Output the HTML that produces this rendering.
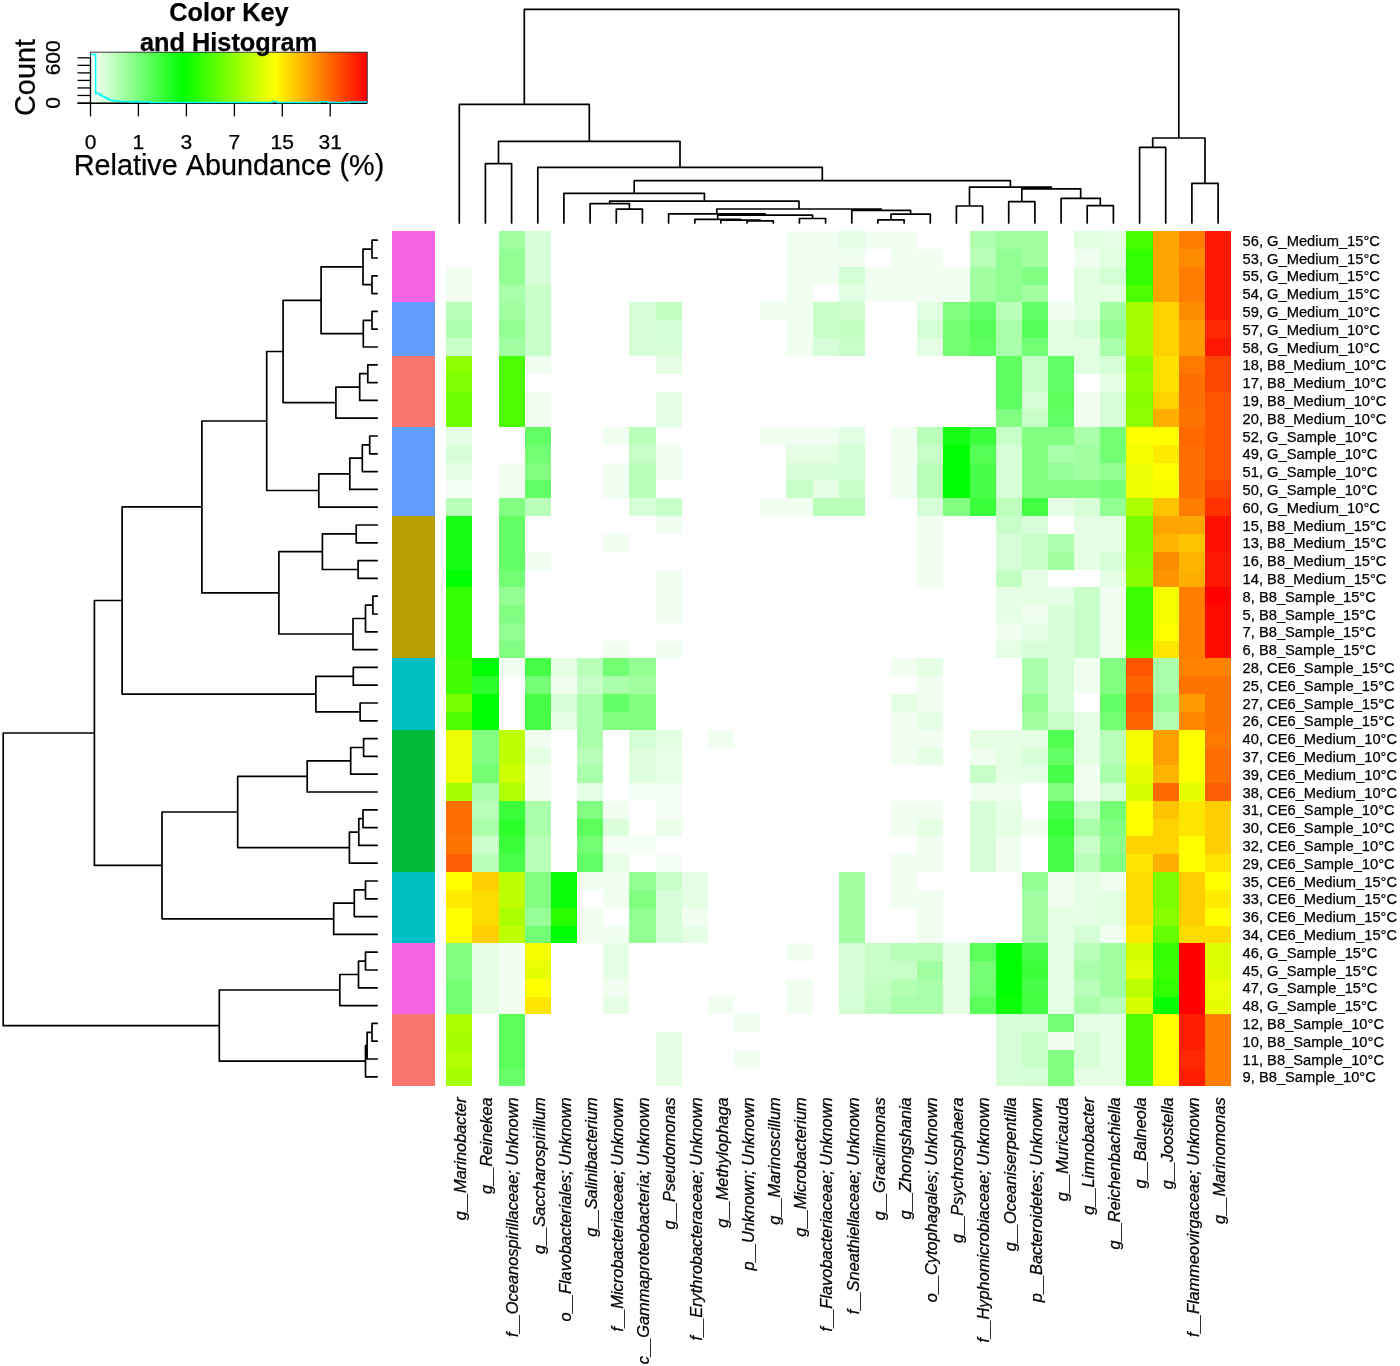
<!DOCTYPE html>
<html lang="en"><head><meta charset="utf-8"><title>Heatmap</title>
<style>html,body{margin:0;padding:0;background:#fff}body{width:1400px;height:1366px;overflow:hidden}svg{display:block}text{font-family:'Liberation Sans', Arial, Helvetica, sans-serif;fill:#000;stroke:#000;stroke-width:0.25px;font-kerning:none}</style>
</head><body>
<svg width="1400" height="1366" viewBox="0 0 1400 1366">
<rect width="1400" height="1366" fill="#fff"/>
<defs><linearGradient id="kg" x1="0" x2="1" y1="0" y2="0"><stop offset="0" stop-color="#fff"/><stop offset="0.333" stop-color="#00ff00"/><stop offset="0.667" stop-color="#ffff00"/><stop offset="1" stop-color="#ff0000"/></linearGradient></defs>
<rect x="90.5" y="52.2" width="276.7" height="50.8" fill="url(#kg)"/>
<rect x="90.5" y="52.2" width="276.7" height="50.8" fill="none" stroke="#222" stroke-width="0.9"/>
<g font-weight="bold" font-size="25.3" text-anchor="middle">
<text x="228.9" y="20.5">Color Key</text>
<text x="228.6" y="51.3">and Histogram</text></g>
<g stroke="#000" stroke-width="1.3" fill="none">
<path d="M77.5 103.3H367.2"/>
<path d="M90.5 103V116.4"/>
<path d="M138.4 103V116.4"/>
<path d="M186.4 103V116.4"/>
<path d="M234.4 103V116.4"/>
<path d="M282.3 103V116.4"/>
<path d="M330.2 103V116.4"/>
<path d="M90.5 57.8V103"/>
<path d="M77.5 103.00H90.5"/>
<path d="M77.5 95.47H90.5"/>
<path d="M77.5 87.94H90.5"/>
<path d="M77.5 80.41H90.5"/>
<path d="M77.5 72.88H90.5"/>
<path d="M77.5 65.35H90.5"/>
<path d="M77.5 57.82H90.5"/>
</g>
<polyline fill="none" stroke="#00ffff" stroke-width="1.5" points="91.0,54.5 95.6,54.5 95.6,93.5 99.5,93.5 99.5,95.0 102.0,95.0 102.0,96.6 105.0,96.6 105.0,97.8 107.5,97.8 107.5,99.2 110.0,99.2 110.0,100.3 114.0,100.3 114.0,101.0 120.0,101.0 120.0,101.6 130.0,101.6 130.0,102.0 134.0,102.0 134.0,101.5 139.0,101.5 139.0,102.1 150.0,102.1 150.0,102.4 272.0,102.4 272.0,101.6 277.0,101.6 277.0,102.4 320.0,102.4 320.0,101.7 328.0,101.7 328.0,102.4 350.0,102.4 350.0,102.0 367.0,102.0"/>
<g font-size="21" text-anchor="middle">
<text x="90.5" y="149.3">0</text>
<text x="138.4" y="149.3">1</text>
<text x="186.4" y="149.3">3</text>
<text x="234.4" y="149.3">7</text>
<text x="282.3" y="149.3">15</text>
<text x="330.2" y="149.3">31</text>
<text transform="translate(60.3,103) rotate(-90)">0</text>
<text transform="translate(60.3,57.8) rotate(-90)">600</text>
</g>
<text x="229" y="174.6" font-size="28.8" text-anchor="middle">Relative Abundance (%)</text>
<text transform="translate(34.6,77.5) rotate(-90)" font-size="28.8" text-anchor="middle">Count</text>
<path fill="none" stroke="#000" stroke-width="1.7" stroke-linecap="round" stroke-linejoin="round" d="M485.4 223.0L485.4 163.7M511.6 223.0L511.6 163.7M485.4 163.7L511.6 163.7M616.3 223.0L616.3 209.1M642.4 223.0L642.4 209.1M616.3 209.1L642.4 209.1M590.1 223.0L590.1 203.7M629.4 209.1L629.4 203.7M590.1 203.7L629.4 203.7M747.1 223.0L747.1 220.9M773.3 223.0L773.3 220.9M747.1 220.9L773.3 220.9M720.9 223.0L720.9 220.2M760.2 220.9L760.2 220.2M720.9 220.2L760.2 220.2M694.8 223.0L694.8 219.4M740.6 220.2L740.6 219.4M694.8 219.4L740.6 219.4M799.4 223.0L799.4 218.5M825.6 223.0L825.6 218.5M799.4 218.5L825.6 218.5M717.7 219.4L717.7 215.1M812.5 218.5L812.5 215.1M717.7 215.1L812.5 215.1M668.6 223.0L668.6 213.8M765.1 215.1L765.1 213.8M668.6 213.8L765.1 213.8M877.9 223.0L877.9 219.8M904.1 223.0L904.1 219.8M877.9 219.8L904.1 219.8M891.0 219.8L891.0 214.2M930.3 223.0L930.3 214.2M891.0 214.2L930.3 214.2M851.8 223.0L851.8 210.3M910.6 214.2L910.6 210.3M851.8 210.3L910.6 210.3M716.8 213.8L716.8 209.0M881.2 210.3L881.2 209.0M716.8 209.0L881.2 209.0M609.7 203.7L609.7 201.2M799.0 209.0L799.0 201.2M609.7 201.2L799.0 201.2M563.9 223.0L563.9 193.3M704.4 201.2L704.4 193.3M563.9 193.3L704.4 193.3M956.4 223.0L956.4 206.0M982.6 223.0L982.6 206.0M956.4 206.0L982.6 206.0M1008.7 223.0L1008.7 201.7M1034.9 223.0L1034.9 201.7M1008.7 201.7L1034.9 201.7M1087.2 223.0L1087.2 205.7M1113.4 223.0L1113.4 205.7M1087.2 205.7L1113.4 205.7M1061.1 223.0L1061.1 198.3M1100.3 205.7L1100.3 198.3M1061.1 198.3L1100.3 198.3M1021.8 201.7L1021.8 188.9M1080.7 198.3L1080.7 188.9M1021.8 188.9L1080.7 188.9M969.5 206.0L969.5 187.1M1051.3 188.9L1051.3 187.1M969.5 187.1L1051.3 187.1M634.2 193.3L634.2 180.6M1010.4 187.1L1010.4 180.6M634.2 180.6L1010.4 180.6M537.8 223.0L537.8 167.4M822.3 180.6L822.3 167.4M537.8 167.4L822.3 167.4M498.5 163.7L498.5 141.4M680.0 167.4L680.0 141.4M498.5 141.4L680.0 141.4M459.3 223.0L459.3 104.3M589.3 141.4L589.3 104.3M459.3 104.3L589.3 104.3M1139.6 223.0L1139.6 147.4M1165.7 223.0L1165.7 147.4M1139.6 147.4L1165.7 147.4M1191.9 223.0L1191.9 183.4M1218.1 223.0L1218.1 183.4M1191.9 183.4L1218.1 183.4M1152.7 147.4L1152.7 138.0M1205.0 183.4L1205.0 138.0M1152.7 138.0L1205.0 138.0M524.3 104.3L524.3 9.4M1178.8 138.0L1178.8 9.4M524.3 9.4L1178.8 9.4"/>
<path fill="none" stroke="#000" stroke-width="1.7" stroke-linecap="round" stroke-linejoin="round" d="M377.2 240.2L372.0 240.2M377.2 258.0L372.0 258.0M372.0 240.2L372.0 258.0M377.2 275.8L372.0 275.8M377.2 293.6L372.0 293.6M372.0 275.8L372.0 293.6M372.0 249.1L363.0 249.1M372.0 284.7L363.0 284.7M363.0 249.1L363.0 284.7M377.2 311.4L372.0 311.4M377.2 329.2L372.0 329.2M372.0 311.4L372.0 329.2M372.0 320.3L363.3 320.3M377.2 347.0L363.3 347.0M363.3 320.3L363.3 347.0M363.0 266.9L321.1 266.9M363.3 333.7L321.1 333.7M321.1 266.9L321.1 333.7M377.2 364.8L367.8 364.8M377.2 382.6L367.8 382.6M367.8 364.8L367.8 382.6M367.8 373.7L359.7 373.7M377.2 400.4L359.7 400.4M359.7 373.7L359.7 400.4M359.7 387.1L335.9 387.1M377.2 418.2L335.9 418.2M335.9 387.1L335.9 418.2M321.1 300.3L283.1 300.3M335.9 402.6L283.1 402.6M283.1 300.3L283.1 402.6M377.2 436.0L369.7 436.0M377.2 453.8L369.7 453.8M369.7 436.0L369.7 453.8M369.7 444.9L362.3 444.9M377.2 471.6L362.3 471.6M362.3 444.9L362.3 471.6M362.3 458.2L349.8 458.2M377.2 489.4L349.8 489.4M349.8 458.2L349.8 489.4M349.8 473.8L318.8 473.8M377.2 507.2L318.8 507.2M318.8 473.8L318.8 507.2M283.1 351.5L266.7 351.5M318.8 490.5L266.7 490.5M266.7 351.5L266.7 490.5M377.2 525.0L356.2 525.0M377.2 542.8L356.2 542.8M356.2 525.0L356.2 542.8M377.2 560.6L358.1 560.6M377.2 578.4L358.1 578.4M358.1 560.6L358.1 578.4M356.2 533.9L322.4 533.9M358.1 569.5L322.4 569.5M322.4 533.9L322.4 569.5M377.2 596.2L372.9 596.2M377.2 614.0L372.9 614.0M372.9 596.2L372.9 614.0M372.9 605.1L365.5 605.1M377.2 631.8L365.5 631.8M365.5 605.1L365.5 631.8M365.5 618.5L353.0 618.5M377.2 649.6L353.0 649.6M353.0 618.5L353.0 649.6M322.4 551.7L278.9 551.7M353.0 634.0L278.9 634.0M278.9 551.7L278.9 634.0M266.7 421.0L201.9 421.0M278.9 592.9L201.9 592.9M201.9 421.0L201.9 592.9M377.2 667.4L353.3 667.4M377.2 685.2L353.3 685.2M353.3 667.4L353.3 685.2M377.2 703.0L360.1 703.0M377.2 720.8L360.1 720.8M360.1 703.0L360.1 720.8M353.3 676.3L315.9 676.3M360.1 711.9L315.9 711.9M315.9 676.3L315.9 711.9M201.9 506.9L122.1 506.9M315.9 694.1L122.1 694.1M122.1 506.9L122.1 694.1M377.2 738.6L363.6 738.6M377.2 756.4L363.6 756.4M363.6 738.6L363.6 756.4M363.6 747.5L350.7 747.5M377.2 774.2L350.7 774.2M350.7 747.5L350.7 774.2M350.7 760.9L307.2 760.9M377.2 792.0L307.2 792.0M307.2 760.9L307.2 792.0M377.2 809.8L363.0 809.8M377.2 827.6L363.0 827.6M363.0 809.8L363.0 827.6M363.0 818.7L358.8 818.7M377.2 845.4L358.8 845.4M358.8 818.7L358.8 845.4M358.8 832.1L349.4 832.1M377.2 863.2L349.4 863.2M349.4 832.1L349.4 863.2M307.2 776.4L237.7 776.4M349.4 847.6L237.7 847.6M237.7 776.4L237.7 847.6M377.2 881.0L365.5 881.0M377.2 898.8L365.5 898.8M365.5 881.0L365.5 898.8M365.5 889.9L354.3 889.9M377.2 916.6L354.3 916.6M354.3 889.9L354.3 916.6M354.3 903.2L333.7 903.2M377.2 934.4L333.7 934.4M333.7 903.2L333.7 934.4M237.7 812.0L162.0 812.0M333.7 918.8L162.0 918.8M162.0 812.0L162.0 918.8M122.1 600.5L94.4 600.5M162.0 865.4L94.4 865.4M94.4 600.5L94.4 865.4M377.2 952.2L365.5 952.2M377.2 970.0L365.5 970.0M365.5 952.2L365.5 970.0M365.5 961.1L358.5 961.1M377.2 987.8L358.5 987.8M358.5 961.1L358.5 987.8M358.5 974.5L339.8 974.5M377.2 1005.6L339.8 1005.6M339.8 974.5L339.8 1005.6M377.2 1023.4L372.0 1023.4M377.2 1041.2L372.0 1041.2M372.0 1023.4L372.0 1041.2M372.0 1032.3L367.1 1032.3M377.2 1059.0L367.1 1059.0M367.1 1032.3L367.1 1059.0M367.1 1045.7L365.5 1045.7M377.2 1076.8L365.5 1076.8M365.5 1045.7L365.5 1076.8M339.8 990.0L219.3 990.0M365.5 1061.2L219.3 1061.2M219.3 990.0L219.3 1061.2M94.4 733.0L3.2 733.0M219.3 1025.6L3.2 1025.6M3.2 733.0L3.2 1025.6"/>
<g shape-rendering="crispEdges">
<rect x="392" y="231" width="43" height="71" fill="#f564e3"/>
<rect x="392" y="302" width="43" height="54" fill="#619cff"/>
<rect x="392" y="356" width="43" height="71" fill="#f8766d"/>
<rect x="392" y="427" width="43" height="89" fill="#619cff"/>
<rect x="392" y="516" width="43" height="142" fill="#b79f00"/>
<rect x="392" y="658" width="43" height="72" fill="#00bfc4"/>
<rect x="392" y="730" width="43" height="142" fill="#00ba38"/>
<rect x="392" y="872" width="43" height="71" fill="#00bfc4"/>
<rect x="392" y="943" width="43" height="71" fill="#f564e3"/>
<rect x="392" y="1014" width="43" height="72" fill="#f8766d"/>
</g>
<g shape-rendering="crispEdges">
<rect x="499" y="231" width="26" height="18" fill="#a0ffa0"/>
<rect x="525" y="231" width="26" height="18" fill="#d7ffd7"/>
<rect x="786" y="231" width="53" height="18" fill="#f0fff0"/>
<rect x="839" y="231" width="26" height="18" fill="#e4ffe4"/>
<rect x="865" y="231" width="52" height="18" fill="#f0fff0"/>
<rect x="970" y="231" width="26" height="18" fill="#afffaf"/>
<rect x="996" y="231" width="52" height="18" fill="#a0ffa0"/>
<rect x="1074" y="231" width="26" height="18" fill="#e1ffe1"/>
<rect x="1100" y="231" width="26" height="18" fill="#e4ffe4"/>
<rect x="1126" y="231" width="27" height="18" fill="#46ff00"/>
<rect x="1153" y="231" width="26" height="18" fill="#ffa500"/>
<rect x="1179" y="231" width="26" height="18" fill="#ff7d00"/>
<rect x="1205" y="231" width="26" height="18" fill="#ff1900"/>
<rect x="499" y="249" width="26" height="18" fill="#91ff91"/>
<rect x="525" y="249" width="26" height="18" fill="#d7ffd7"/>
<rect x="786" y="249" width="79" height="18" fill="#f0fff0"/>
<rect x="891" y="249" width="52" height="18" fill="#f0fff0"/>
<rect x="970" y="249" width="26" height="18" fill="#b9ffb9"/>
<rect x="996" y="249" width="26" height="18" fill="#91ff91"/>
<rect x="1022" y="249" width="26" height="18" fill="#a0ffa0"/>
<rect x="1074" y="249" width="26" height="18" fill="#f0fff0"/>
<rect x="1100" y="249" width="26" height="18" fill="#e1ffe1"/>
<rect x="1126" y="249" width="27" height="18" fill="#32ff00"/>
<rect x="1153" y="249" width="26" height="18" fill="#ffa500"/>
<rect x="1179" y="249" width="26" height="18" fill="#ff8c00"/>
<rect x="1205" y="249" width="26" height="18" fill="#ff1900"/>
<rect x="446" y="267" width="26" height="18" fill="#f0fff0"/>
<rect x="499" y="267" width="26" height="18" fill="#91ff91"/>
<rect x="525" y="267" width="26" height="18" fill="#d7ffd7"/>
<rect x="786" y="267" width="53" height="18" fill="#f0fff0"/>
<rect x="839" y="267" width="26" height="18" fill="#d4ffd4"/>
<rect x="865" y="267" width="105" height="18" fill="#f0fff0"/>
<rect x="970" y="267" width="26" height="18" fill="#a0ffa0"/>
<rect x="996" y="267" width="26" height="18" fill="#91ff91"/>
<rect x="1022" y="267" width="26" height="18" fill="#82ff82"/>
<rect x="1074" y="267" width="26" height="18" fill="#e1ffe1"/>
<rect x="1100" y="267" width="26" height="18" fill="#d4ffd4"/>
<rect x="1126" y="267" width="27" height="18" fill="#32ff00"/>
<rect x="1153" y="267" width="26" height="18" fill="#ffa500"/>
<rect x="1179" y="267" width="26" height="18" fill="#ff7d00"/>
<rect x="1205" y="267" width="26" height="18" fill="#ff1900"/>
<rect x="446" y="285" width="26" height="17" fill="#f0fff0"/>
<rect x="499" y="285" width="26" height="17" fill="#aaffaa"/>
<rect x="525" y="285" width="26" height="17" fill="#c8ffc8"/>
<rect x="786" y="285" width="27" height="17" fill="#f0fff0"/>
<rect x="839" y="285" width="26" height="17" fill="#e1ffe1"/>
<rect x="865" y="285" width="105" height="17" fill="#f0fff0"/>
<rect x="970" y="285" width="26" height="17" fill="#a0ffa0"/>
<rect x="996" y="285" width="26" height="17" fill="#91ff91"/>
<rect x="1022" y="285" width="26" height="17" fill="#a0ffa0"/>
<rect x="1074" y="285" width="26" height="17" fill="#e1ffe1"/>
<rect x="1100" y="285" width="26" height="17" fill="#e4ffe4"/>
<rect x="1126" y="285" width="27" height="17" fill="#4bff00"/>
<rect x="1153" y="285" width="26" height="17" fill="#ffa500"/>
<rect x="1179" y="285" width="26" height="17" fill="#ff7d00"/>
<rect x="1205" y="285" width="26" height="17" fill="#ff1900"/>
<rect x="446" y="302" width="26" height="18" fill="#b9ffb9"/>
<rect x="499" y="302" width="26" height="18" fill="#a0ffa0"/>
<rect x="525" y="302" width="26" height="18" fill="#c8ffc8"/>
<rect x="629" y="302" width="27" height="18" fill="#d7ffd7"/>
<rect x="656" y="302" width="26" height="18" fill="#c3ffc3"/>
<rect x="760" y="302" width="53" height="18" fill="#f0fff0"/>
<rect x="813" y="302" width="26" height="18" fill="#c8ffc8"/>
<rect x="839" y="302" width="26" height="18" fill="#d2ffd2"/>
<rect x="917" y="302" width="26" height="18" fill="#e1ffe1"/>
<rect x="943" y="302" width="27" height="18" fill="#82ff82"/>
<rect x="970" y="302" width="26" height="18" fill="#64ff64"/>
<rect x="996" y="302" width="26" height="18" fill="#b9ffb9"/>
<rect x="1022" y="302" width="26" height="18" fill="#64ff64"/>
<rect x="1048" y="302" width="26" height="18" fill="#f0fff0"/>
<rect x="1074" y="302" width="26" height="18" fill="#e1ffe1"/>
<rect x="1100" y="302" width="26" height="18" fill="#a0ffa0"/>
<rect x="1126" y="302" width="27" height="18" fill="#a5ff00"/>
<rect x="1153" y="302" width="26" height="18" fill="#ffd200"/>
<rect x="1179" y="302" width="26" height="18" fill="#ff8c00"/>
<rect x="1205" y="302" width="26" height="18" fill="#ff1900"/>
<rect x="446" y="320" width="26" height="18" fill="#afffaf"/>
<rect x="499" y="320" width="26" height="18" fill="#91ff91"/>
<rect x="525" y="320" width="26" height="18" fill="#c8ffc8"/>
<rect x="629" y="320" width="27" height="18" fill="#d7ffd7"/>
<rect x="656" y="320" width="26" height="18" fill="#d4ffd4"/>
<rect x="786" y="320" width="27" height="18" fill="#f0fff0"/>
<rect x="813" y="320" width="26" height="18" fill="#c8ffc8"/>
<rect x="839" y="320" width="26" height="18" fill="#c3ffc3"/>
<rect x="917" y="320" width="26" height="18" fill="#d4ffd4"/>
<rect x="943" y="320" width="27" height="18" fill="#73ff73"/>
<rect x="970" y="320" width="26" height="18" fill="#55ff55"/>
<rect x="996" y="320" width="26" height="18" fill="#aaffaa"/>
<rect x="1022" y="320" width="26" height="18" fill="#55ff55"/>
<rect x="1048" y="320" width="26" height="18" fill="#e1ffe1"/>
<rect x="1074" y="320" width="26" height="18" fill="#d4ffd4"/>
<rect x="1100" y="320" width="26" height="18" fill="#91ff91"/>
<rect x="1126" y="320" width="27" height="18" fill="#a5ff00"/>
<rect x="1153" y="320" width="26" height="18" fill="#ffd200"/>
<rect x="1179" y="320" width="26" height="18" fill="#ff9b00"/>
<rect x="1205" y="320" width="26" height="18" fill="#ff2800"/>
<rect x="446" y="338" width="26" height="18" fill="#c8ffc8"/>
<rect x="499" y="338" width="26" height="18" fill="#a0ffa0"/>
<rect x="525" y="338" width="26" height="18" fill="#c8ffc8"/>
<rect x="629" y="338" width="53" height="18" fill="#d7ffd7"/>
<rect x="786" y="338" width="27" height="18" fill="#f0fff0"/>
<rect x="813" y="338" width="26" height="18" fill="#d7ffd7"/>
<rect x="839" y="338" width="26" height="18" fill="#c8ffc8"/>
<rect x="917" y="338" width="26" height="18" fill="#e4ffe4"/>
<rect x="943" y="338" width="27" height="18" fill="#73ff73"/>
<rect x="970" y="338" width="26" height="18" fill="#5fff5f"/>
<rect x="996" y="338" width="26" height="18" fill="#aaffaa"/>
<rect x="1022" y="338" width="26" height="18" fill="#73ff73"/>
<rect x="1048" y="338" width="52" height="18" fill="#e1ffe1"/>
<rect x="1100" y="338" width="26" height="18" fill="#aaffaa"/>
<rect x="1126" y="338" width="27" height="18" fill="#a5ff00"/>
<rect x="1153" y="338" width="26" height="18" fill="#ffd200"/>
<rect x="1179" y="338" width="26" height="18" fill="#ff9b00"/>
<rect x="1205" y="338" width="26" height="18" fill="#ff1900"/>
<rect x="446" y="356" width="26" height="18" fill="#8cff00"/>
<rect x="499" y="356" width="26" height="18" fill="#4bff00"/>
<rect x="525" y="356" width="26" height="18" fill="#f0fff0"/>
<rect x="656" y="356" width="26" height="18" fill="#e4ffe4"/>
<rect x="996" y="356" width="26" height="18" fill="#5fff5f"/>
<rect x="1022" y="356" width="26" height="18" fill="#c8ffc8"/>
<rect x="1048" y="356" width="26" height="18" fill="#64ff64"/>
<rect x="1074" y="356" width="26" height="18" fill="#e1ffe1"/>
<rect x="1100" y="356" width="26" height="18" fill="#d7ffd7"/>
<rect x="1126" y="356" width="27" height="18" fill="#87ff00"/>
<rect x="1153" y="356" width="26" height="18" fill="#ffe100"/>
<rect x="1179" y="356" width="26" height="18" fill="#ff7800"/>
<rect x="1205" y="356" width="26" height="18" fill="#ff4600"/>
<rect x="446" y="374" width="26" height="18" fill="#82ff00"/>
<rect x="499" y="374" width="26" height="18" fill="#4bff00"/>
<rect x="996" y="374" width="26" height="18" fill="#5fff5f"/>
<rect x="1022" y="374" width="26" height="18" fill="#c8ffc8"/>
<rect x="1048" y="374" width="26" height="18" fill="#64ff64"/>
<rect x="1100" y="374" width="26" height="18" fill="#e4ffe4"/>
<rect x="1126" y="374" width="27" height="18" fill="#91ff00"/>
<rect x="1153" y="374" width="26" height="18" fill="#ffe100"/>
<rect x="1179" y="374" width="26" height="18" fill="#ff6e00"/>
<rect x="1205" y="374" width="26" height="18" fill="#ff4600"/>
<rect x="446" y="392" width="26" height="17" fill="#6eff00"/>
<rect x="499" y="392" width="26" height="17" fill="#4bff00"/>
<rect x="525" y="392" width="26" height="17" fill="#f0fff0"/>
<rect x="656" y="392" width="26" height="17" fill="#e4ffe4"/>
<rect x="996" y="392" width="26" height="17" fill="#5fff5f"/>
<rect x="1022" y="392" width="26" height="17" fill="#d7ffd7"/>
<rect x="1048" y="392" width="26" height="17" fill="#5aff5a"/>
<rect x="1074" y="392" width="26" height="17" fill="#f0fff0"/>
<rect x="1100" y="392" width="26" height="17" fill="#d7ffd7"/>
<rect x="1126" y="392" width="27" height="17" fill="#87ff00"/>
<rect x="1153" y="392" width="26" height="17" fill="#ffd200"/>
<rect x="1179" y="392" width="26" height="17" fill="#ff6e00"/>
<rect x="1205" y="392" width="26" height="17" fill="#ff5500"/>
<rect x="446" y="409" width="26" height="18" fill="#6eff00"/>
<rect x="499" y="409" width="26" height="18" fill="#4bff00"/>
<rect x="525" y="409" width="26" height="18" fill="#f0fff0"/>
<rect x="656" y="409" width="26" height="18" fill="#e4ffe4"/>
<rect x="996" y="409" width="26" height="18" fill="#82ff82"/>
<rect x="1022" y="409" width="26" height="18" fill="#c8ffc8"/>
<rect x="1048" y="409" width="26" height="18" fill="#64ff64"/>
<rect x="1074" y="409" width="26" height="18" fill="#f0fff0"/>
<rect x="1100" y="409" width="26" height="18" fill="#d7ffd7"/>
<rect x="1126" y="409" width="27" height="18" fill="#8cff00"/>
<rect x="1153" y="409" width="26" height="18" fill="#ffaf00"/>
<rect x="1179" y="409" width="26" height="18" fill="#ff7300"/>
<rect x="1205" y="409" width="26" height="18" fill="#ff5500"/>
<rect x="446" y="427" width="26" height="18" fill="#e4ffe4"/>
<rect x="525" y="427" width="26" height="18" fill="#64ff64"/>
<rect x="603" y="427" width="26" height="18" fill="#f0fff0"/>
<rect x="629" y="427" width="27" height="18" fill="#b9ffb9"/>
<rect x="760" y="427" width="79" height="18" fill="#f0fff0"/>
<rect x="839" y="427" width="26" height="18" fill="#e1ffe1"/>
<rect x="891" y="427" width="26" height="18" fill="#f0fff0"/>
<rect x="917" y="427" width="26" height="18" fill="#b9ffb9"/>
<rect x="943" y="427" width="27" height="18" fill="#14ff14"/>
<rect x="970" y="427" width="26" height="18" fill="#3cff3c"/>
<rect x="996" y="427" width="26" height="18" fill="#c8ffc8"/>
<rect x="1022" y="427" width="52" height="18" fill="#82ff82"/>
<rect x="1074" y="427" width="26" height="18" fill="#aaffaa"/>
<rect x="1100" y="427" width="26" height="18" fill="#73ff73"/>
<rect x="1126" y="427" width="53" height="18" fill="#ffff00"/>
<rect x="1179" y="427" width="26" height="18" fill="#ff6900"/>
<rect x="1205" y="427" width="26" height="18" fill="#ff5500"/>
<rect x="446" y="445" width="26" height="18" fill="#d7ffd7"/>
<rect x="525" y="445" width="26" height="18" fill="#73ff73"/>
<rect x="629" y="445" width="27" height="18" fill="#c8ffc8"/>
<rect x="656" y="445" width="26" height="18" fill="#f0fff0"/>
<rect x="786" y="445" width="53" height="18" fill="#e4ffe4"/>
<rect x="839" y="445" width="26" height="18" fill="#d4ffd4"/>
<rect x="891" y="445" width="26" height="18" fill="#f0fff0"/>
<rect x="917" y="445" width="26" height="18" fill="#c8ffc8"/>
<rect x="943" y="445" width="27" height="18" fill="#00ff00"/>
<rect x="970" y="445" width="26" height="18" fill="#55ff55"/>
<rect x="996" y="445" width="26" height="18" fill="#d7ffd7"/>
<rect x="1022" y="445" width="26" height="18" fill="#82ff82"/>
<rect x="1048" y="445" width="26" height="18" fill="#aaffaa"/>
<rect x="1074" y="445" width="26" height="18" fill="#a0ffa0"/>
<rect x="1100" y="445" width="26" height="18" fill="#73ff73"/>
<rect x="1126" y="445" width="27" height="18" fill="#f5ff00"/>
<rect x="1153" y="445" width="26" height="18" fill="#ffeb00"/>
<rect x="1179" y="445" width="26" height="18" fill="#ff6e00"/>
<rect x="1205" y="445" width="26" height="18" fill="#ff5500"/>
<rect x="446" y="463" width="26" height="17" fill="#e4ffe4"/>
<rect x="499" y="463" width="26" height="17" fill="#f0fff0"/>
<rect x="525" y="463" width="26" height="17" fill="#82ff82"/>
<rect x="603" y="463" width="26" height="17" fill="#f0fff0"/>
<rect x="629" y="463" width="27" height="17" fill="#b9ffb9"/>
<rect x="656" y="463" width="26" height="17" fill="#f0fff0"/>
<rect x="786" y="463" width="53" height="17" fill="#d7ffd7"/>
<rect x="839" y="463" width="26" height="17" fill="#d4ffd4"/>
<rect x="891" y="463" width="26" height="17" fill="#f0fff0"/>
<rect x="917" y="463" width="26" height="17" fill="#b9ffb9"/>
<rect x="943" y="463" width="27" height="17" fill="#00ff00"/>
<rect x="970" y="463" width="26" height="17" fill="#46ff46"/>
<rect x="996" y="463" width="26" height="17" fill="#d7ffd7"/>
<rect x="1022" y="463" width="26" height="17" fill="#82ff82"/>
<rect x="1048" y="463" width="26" height="17" fill="#96ff96"/>
<rect x="1074" y="463" width="26" height="17" fill="#a0ffa0"/>
<rect x="1100" y="463" width="26" height="17" fill="#91ff91"/>
<rect x="1126" y="463" width="27" height="17" fill="#ebff00"/>
<rect x="1153" y="463" width="26" height="17" fill="#ffff00"/>
<rect x="1179" y="463" width="26" height="17" fill="#ff6e00"/>
<rect x="1205" y="463" width="26" height="17" fill="#ff5500"/>
<rect x="446" y="480" width="26" height="18" fill="#f5fff5"/>
<rect x="499" y="480" width="26" height="18" fill="#f0fff0"/>
<rect x="525" y="480" width="26" height="18" fill="#64ff64"/>
<rect x="603" y="480" width="26" height="18" fill="#f0fff0"/>
<rect x="629" y="480" width="27" height="18" fill="#b9ffb9"/>
<rect x="786" y="480" width="27" height="18" fill="#c8ffc8"/>
<rect x="813" y="480" width="26" height="18" fill="#e4ffe4"/>
<rect x="839" y="480" width="26" height="18" fill="#c8ffc8"/>
<rect x="891" y="480" width="26" height="18" fill="#f0fff0"/>
<rect x="917" y="480" width="26" height="18" fill="#b9ffb9"/>
<rect x="943" y="480" width="27" height="18" fill="#00ff00"/>
<rect x="970" y="480" width="26" height="18" fill="#46ff46"/>
<rect x="996" y="480" width="26" height="18" fill="#d7ffd7"/>
<rect x="1022" y="480" width="78" height="18" fill="#82ff82"/>
<rect x="1100" y="480" width="26" height="18" fill="#78ff78"/>
<rect x="1126" y="480" width="27" height="18" fill="#f0ff00"/>
<rect x="1153" y="480" width="26" height="18" fill="#f5ff00"/>
<rect x="1179" y="480" width="26" height="18" fill="#ff6e00"/>
<rect x="1205" y="480" width="26" height="18" fill="#ff4600"/>
<rect x="446" y="498" width="26" height="18" fill="#b9ffb9"/>
<rect x="499" y="498" width="26" height="18" fill="#82ff82"/>
<rect x="525" y="498" width="26" height="18" fill="#b9ffb9"/>
<rect x="629" y="498" width="27" height="18" fill="#d7ffd7"/>
<rect x="656" y="498" width="26" height="18" fill="#c8ffc8"/>
<rect x="760" y="498" width="53" height="18" fill="#f0fff0"/>
<rect x="813" y="498" width="52" height="18" fill="#b9ffb9"/>
<rect x="917" y="498" width="26" height="18" fill="#d7ffd7"/>
<rect x="943" y="498" width="27" height="18" fill="#82ff82"/>
<rect x="970" y="498" width="26" height="18" fill="#3cff3c"/>
<rect x="996" y="498" width="26" height="18" fill="#beffbe"/>
<rect x="1022" y="498" width="26" height="18" fill="#41ff41"/>
<rect x="1048" y="498" width="26" height="18" fill="#e4ffe4"/>
<rect x="1074" y="498" width="26" height="18" fill="#d7ffd7"/>
<rect x="1100" y="498" width="26" height="18" fill="#91ff91"/>
<rect x="1126" y="498" width="27" height="18" fill="#aaff00"/>
<rect x="1153" y="498" width="26" height="18" fill="#ffc300"/>
<rect x="1179" y="498" width="26" height="18" fill="#ff7d00"/>
<rect x="1205" y="498" width="26" height="18" fill="#ff3200"/>
<rect x="446" y="516" width="26" height="18" fill="#14ff14"/>
<rect x="499" y="516" width="26" height="18" fill="#64ff64"/>
<rect x="656" y="516" width="26" height="18" fill="#f0fff0"/>
<rect x="917" y="516" width="26" height="18" fill="#f0fff0"/>
<rect x="996" y="516" width="26" height="18" fill="#c8ffc8"/>
<rect x="1022" y="516" width="26" height="18" fill="#d7ffd7"/>
<rect x="1074" y="516" width="52" height="18" fill="#e4ffe4"/>
<rect x="1126" y="516" width="27" height="18" fill="#78ff00"/>
<rect x="1153" y="516" width="52" height="18" fill="#ffa500"/>
<rect x="1205" y="516" width="26" height="18" fill="#ff0f00"/>
<rect x="446" y="534" width="26" height="18" fill="#14ff14"/>
<rect x="499" y="534" width="26" height="18" fill="#64ff64"/>
<rect x="603" y="534" width="26" height="18" fill="#f0fff0"/>
<rect x="917" y="534" width="26" height="18" fill="#f0fff0"/>
<rect x="996" y="534" width="26" height="18" fill="#d7ffd7"/>
<rect x="1022" y="534" width="26" height="18" fill="#c8ffc8"/>
<rect x="1048" y="534" width="26" height="18" fill="#afffaf"/>
<rect x="1074" y="534" width="52" height="18" fill="#e4ffe4"/>
<rect x="1126" y="534" width="27" height="18" fill="#78ff00"/>
<rect x="1153" y="534" width="26" height="18" fill="#ffb400"/>
<rect x="1179" y="534" width="26" height="18" fill="#ffc300"/>
<rect x="1205" y="534" width="26" height="18" fill="#ff0f00"/>
<rect x="446" y="552" width="26" height="18" fill="#14ff14"/>
<rect x="499" y="552" width="26" height="18" fill="#64ff64"/>
<rect x="525" y="552" width="26" height="18" fill="#f0fff0"/>
<rect x="917" y="552" width="26" height="18" fill="#f0fff0"/>
<rect x="996" y="552" width="26" height="18" fill="#d7ffd7"/>
<rect x="1022" y="552" width="26" height="18" fill="#c8ffc8"/>
<rect x="1048" y="552" width="26" height="18" fill="#a0ffa0"/>
<rect x="1074" y="552" width="26" height="18" fill="#e4ffe4"/>
<rect x="1100" y="552" width="26" height="18" fill="#d7ffd7"/>
<rect x="1126" y="552" width="27" height="18" fill="#82ff00"/>
<rect x="1153" y="552" width="26" height="18" fill="#ff8c00"/>
<rect x="1179" y="552" width="26" height="18" fill="#ffb400"/>
<rect x="1205" y="552" width="26" height="18" fill="#ff1900"/>
<rect x="446" y="570" width="26" height="17" fill="#00ff00"/>
<rect x="499" y="570" width="26" height="17" fill="#73ff73"/>
<rect x="656" y="570" width="26" height="17" fill="#f0fff0"/>
<rect x="917" y="570" width="26" height="17" fill="#f0fff0"/>
<rect x="996" y="570" width="26" height="17" fill="#c3ffc3"/>
<rect x="1022" y="570" width="26" height="17" fill="#e4ffe4"/>
<rect x="1100" y="570" width="26" height="17" fill="#e4ffe4"/>
<rect x="1126" y="570" width="27" height="17" fill="#87ff00"/>
<rect x="1153" y="570" width="26" height="17" fill="#ff9600"/>
<rect x="1179" y="570" width="26" height="17" fill="#ffaf00"/>
<rect x="1205" y="570" width="26" height="17" fill="#ff1900"/>
<rect x="446" y="587" width="26" height="18" fill="#32ff00"/>
<rect x="499" y="587" width="26" height="18" fill="#91ff91"/>
<rect x="656" y="587" width="26" height="18" fill="#f0fff0"/>
<rect x="996" y="587" width="78" height="18" fill="#e4ffe4"/>
<rect x="1074" y="587" width="26" height="18" fill="#c8ffc8"/>
<rect x="1100" y="587" width="26" height="18" fill="#f0fff0"/>
<rect x="1126" y="587" width="27" height="18" fill="#3cff00"/>
<rect x="1153" y="587" width="26" height="18" fill="#f5ff00"/>
<rect x="1179" y="587" width="26" height="18" fill="#ff7d00"/>
<rect x="1205" y="587" width="26" height="18" fill="#ff0000"/>
<rect x="446" y="605" width="26" height="18" fill="#32ff00"/>
<rect x="499" y="605" width="26" height="18" fill="#82ff82"/>
<rect x="656" y="605" width="26" height="18" fill="#f0fff0"/>
<rect x="996" y="605" width="26" height="18" fill="#e4ffe4"/>
<rect x="1022" y="605" width="26" height="18" fill="#f0fff0"/>
<rect x="1048" y="605" width="26" height="18" fill="#d7ffd7"/>
<rect x="1074" y="605" width="26" height="18" fill="#c8ffc8"/>
<rect x="1100" y="605" width="26" height="18" fill="#f0fff0"/>
<rect x="1126" y="605" width="27" height="18" fill="#3cff00"/>
<rect x="1153" y="605" width="26" height="18" fill="#f5ff00"/>
<rect x="1179" y="605" width="26" height="18" fill="#ff7d00"/>
<rect x="1205" y="605" width="26" height="18" fill="#ff0a00"/>
<rect x="446" y="623" width="26" height="18" fill="#32ff00"/>
<rect x="499" y="623" width="26" height="18" fill="#91ff91"/>
<rect x="996" y="623" width="26" height="18" fill="#f0fff0"/>
<rect x="1022" y="623" width="26" height="18" fill="#e4ffe4"/>
<rect x="1048" y="623" width="26" height="18" fill="#d7ffd7"/>
<rect x="1074" y="623" width="26" height="18" fill="#c8ffc8"/>
<rect x="1100" y="623" width="26" height="18" fill="#f0fff0"/>
<rect x="1126" y="623" width="27" height="18" fill="#3cff00"/>
<rect x="1153" y="623" width="26" height="18" fill="#ffff00"/>
<rect x="1179" y="623" width="26" height="18" fill="#ff7d00"/>
<rect x="1205" y="623" width="26" height="18" fill="#ff0a00"/>
<rect x="446" y="641" width="26" height="17" fill="#32ff00"/>
<rect x="499" y="641" width="26" height="17" fill="#82ff82"/>
<rect x="603" y="641" width="26" height="17" fill="#f0fff0"/>
<rect x="656" y="641" width="26" height="17" fill="#f0fff0"/>
<rect x="996" y="641" width="26" height="17" fill="#e4ffe4"/>
<rect x="1022" y="641" width="52" height="17" fill="#d7ffd7"/>
<rect x="1074" y="641" width="26" height="17" fill="#c8ffc8"/>
<rect x="1100" y="641" width="26" height="17" fill="#f0fff0"/>
<rect x="1126" y="641" width="27" height="17" fill="#4bff00"/>
<rect x="1153" y="641" width="26" height="17" fill="#ffe600"/>
<rect x="1179" y="641" width="26" height="17" fill="#ff7d00"/>
<rect x="1205" y="641" width="26" height="17" fill="#ff0a00"/>
<rect x="446" y="658" width="26" height="18" fill="#41ff00"/>
<rect x="472" y="658" width="27" height="18" fill="#00ff00"/>
<rect x="499" y="658" width="26" height="18" fill="#f0fff0"/>
<rect x="525" y="658" width="26" height="18" fill="#46ff46"/>
<rect x="551" y="658" width="26" height="18" fill="#e4ffe4"/>
<rect x="577" y="658" width="26" height="18" fill="#b9ffb9"/>
<rect x="603" y="658" width="26" height="18" fill="#73ff73"/>
<rect x="629" y="658" width="27" height="18" fill="#91ff91"/>
<rect x="891" y="658" width="26" height="18" fill="#f0fff0"/>
<rect x="917" y="658" width="26" height="18" fill="#e4ffe4"/>
<rect x="1022" y="658" width="26" height="18" fill="#aaffaa"/>
<rect x="1048" y="658" width="26" height="18" fill="#d7ffd7"/>
<rect x="1074" y="658" width="26" height="18" fill="#f0fff0"/>
<rect x="1100" y="658" width="26" height="18" fill="#82ff82"/>
<rect x="1126" y="658" width="27" height="18" fill="#ff5500"/>
<rect x="1153" y="658" width="26" height="18" fill="#aaffaa"/>
<rect x="1179" y="658" width="52" height="18" fill="#ff8200"/>
<rect x="446" y="676" width="26" height="18" fill="#41ff00"/>
<rect x="472" y="676" width="27" height="18" fill="#2dff2d"/>
<rect x="525" y="676" width="26" height="18" fill="#78ff78"/>
<rect x="551" y="676" width="26" height="18" fill="#f0fff0"/>
<rect x="577" y="676" width="26" height="18" fill="#c8ffc8"/>
<rect x="603" y="676" width="26" height="18" fill="#aaffaa"/>
<rect x="629" y="676" width="27" height="18" fill="#a0ffa0"/>
<rect x="917" y="676" width="26" height="18" fill="#f0fff0"/>
<rect x="1022" y="676" width="26" height="18" fill="#aaffaa"/>
<rect x="1048" y="676" width="26" height="18" fill="#d7ffd7"/>
<rect x="1074" y="676" width="26" height="18" fill="#f0fff0"/>
<rect x="1100" y="676" width="26" height="18" fill="#82ff82"/>
<rect x="1126" y="676" width="27" height="18" fill="#ff6400"/>
<rect x="1153" y="676" width="26" height="18" fill="#aaffaa"/>
<rect x="1179" y="676" width="52" height="18" fill="#ff7300"/>
<rect x="446" y="694" width="26" height="18" fill="#78ff00"/>
<rect x="472" y="694" width="27" height="18" fill="#00ff00"/>
<rect x="525" y="694" width="26" height="18" fill="#46ff46"/>
<rect x="551" y="694" width="26" height="18" fill="#d7ffd7"/>
<rect x="577" y="694" width="26" height="18" fill="#aaffaa"/>
<rect x="603" y="694" width="26" height="18" fill="#64ff64"/>
<rect x="629" y="694" width="27" height="18" fill="#82ff82"/>
<rect x="891" y="694" width="26" height="18" fill="#e4ffe4"/>
<rect x="917" y="694" width="26" height="18" fill="#f0fff0"/>
<rect x="1022" y="694" width="26" height="18" fill="#91ff91"/>
<rect x="1048" y="694" width="26" height="18" fill="#d7ffd7"/>
<rect x="1100" y="694" width="26" height="18" fill="#64ff64"/>
<rect x="1126" y="694" width="27" height="18" fill="#ff5500"/>
<rect x="1153" y="694" width="26" height="18" fill="#9bff9b"/>
<rect x="1179" y="694" width="26" height="18" fill="#ff9b00"/>
<rect x="1205" y="694" width="26" height="18" fill="#ff7300"/>
<rect x="446" y="712" width="26" height="18" fill="#50ff00"/>
<rect x="472" y="712" width="27" height="18" fill="#00ff00"/>
<rect x="525" y="712" width="26" height="18" fill="#46ff46"/>
<rect x="551" y="712" width="26" height="18" fill="#e4ffe4"/>
<rect x="577" y="712" width="26" height="18" fill="#aaffaa"/>
<rect x="603" y="712" width="53" height="18" fill="#82ff82"/>
<rect x="891" y="712" width="26" height="18" fill="#f0fff0"/>
<rect x="917" y="712" width="26" height="18" fill="#e4ffe4"/>
<rect x="1022" y="712" width="26" height="18" fill="#a0ffa0"/>
<rect x="1048" y="712" width="26" height="18" fill="#c8ffc8"/>
<rect x="1074" y="712" width="26" height="18" fill="#e4ffe4"/>
<rect x="1100" y="712" width="26" height="18" fill="#73ff73"/>
<rect x="1126" y="712" width="27" height="18" fill="#ff6400"/>
<rect x="1153" y="712" width="26" height="18" fill="#b4ffb4"/>
<rect x="1179" y="712" width="26" height="18" fill="#ff8700"/>
<rect x="1205" y="712" width="26" height="18" fill="#ff7300"/>
<rect x="446" y="730" width="26" height="18" fill="#ebff00"/>
<rect x="472" y="730" width="27" height="18" fill="#82ff82"/>
<rect x="499" y="730" width="26" height="18" fill="#beff00"/>
<rect x="525" y="730" width="26" height="18" fill="#f0fff0"/>
<rect x="577" y="730" width="26" height="18" fill="#aaffaa"/>
<rect x="629" y="730" width="27" height="18" fill="#d4ffd4"/>
<rect x="656" y="730" width="26" height="18" fill="#e1ffe1"/>
<rect x="708" y="730" width="26" height="18" fill="#f0fff0"/>
<rect x="891" y="730" width="52" height="18" fill="#f0fff0"/>
<rect x="970" y="730" width="78" height="18" fill="#e4ffe4"/>
<rect x="1048" y="730" width="26" height="18" fill="#50ff50"/>
<rect x="1074" y="730" width="26" height="18" fill="#e4ffe4"/>
<rect x="1100" y="730" width="26" height="18" fill="#b9ffb9"/>
<rect x="1126" y="730" width="27" height="18" fill="#f5ff00"/>
<rect x="1153" y="730" width="26" height="18" fill="#ffa000"/>
<rect x="1179" y="730" width="26" height="18" fill="#ffff00"/>
<rect x="1205" y="730" width="26" height="18" fill="#ff7800"/>
<rect x="446" y="748" width="26" height="17" fill="#ebff00"/>
<rect x="472" y="748" width="27" height="17" fill="#82ff82"/>
<rect x="499" y="748" width="26" height="17" fill="#beff00"/>
<rect x="525" y="748" width="26" height="17" fill="#e4ffe4"/>
<rect x="577" y="748" width="26" height="17" fill="#b9ffb9"/>
<rect x="629" y="748" width="27" height="17" fill="#deffde"/>
<rect x="656" y="748" width="26" height="17" fill="#e6ffe6"/>
<rect x="891" y="748" width="26" height="17" fill="#f0fff0"/>
<rect x="917" y="748" width="26" height="17" fill="#e4ffe4"/>
<rect x="970" y="748" width="26" height="17" fill="#f0fff0"/>
<rect x="996" y="748" width="26" height="17" fill="#e4ffe4"/>
<rect x="1022" y="748" width="26" height="17" fill="#d7ffd7"/>
<rect x="1048" y="748" width="26" height="17" fill="#64ff64"/>
<rect x="1074" y="748" width="26" height="17" fill="#e4ffe4"/>
<rect x="1100" y="748" width="26" height="17" fill="#b9ffb9"/>
<rect x="1126" y="748" width="27" height="17" fill="#f5ff00"/>
<rect x="1153" y="748" width="26" height="17" fill="#ffa000"/>
<rect x="1179" y="748" width="26" height="17" fill="#ffff00"/>
<rect x="1205" y="748" width="26" height="17" fill="#ff6e00"/>
<rect x="446" y="765" width="26" height="18" fill="#ebff00"/>
<rect x="472" y="765" width="27" height="18" fill="#73ff73"/>
<rect x="499" y="765" width="26" height="18" fill="#cdff00"/>
<rect x="525" y="765" width="26" height="18" fill="#f0fff0"/>
<rect x="577" y="765" width="26" height="18" fill="#aaffaa"/>
<rect x="629" y="765" width="27" height="18" fill="#deffde"/>
<rect x="656" y="765" width="26" height="18" fill="#e6ffe6"/>
<rect x="970" y="765" width="26" height="18" fill="#c8ffc8"/>
<rect x="996" y="765" width="52" height="18" fill="#e4ffe4"/>
<rect x="1048" y="765" width="26" height="18" fill="#46ff46"/>
<rect x="1074" y="765" width="26" height="18" fill="#f0fff0"/>
<rect x="1100" y="765" width="26" height="18" fill="#aaffaa"/>
<rect x="1126" y="765" width="27" height="18" fill="#e8ff00"/>
<rect x="1153" y="765" width="26" height="18" fill="#ffb400"/>
<rect x="1179" y="765" width="26" height="18" fill="#ffff00"/>
<rect x="1205" y="765" width="26" height="18" fill="#ff6e00"/>
<rect x="446" y="783" width="26" height="18" fill="#a5ff00"/>
<rect x="472" y="783" width="27" height="18" fill="#aaffaa"/>
<rect x="499" y="783" width="26" height="18" fill="#afff00"/>
<rect x="525" y="783" width="26" height="18" fill="#f0fff0"/>
<rect x="577" y="783" width="26" height="18" fill="#e4ffe4"/>
<rect x="629" y="783" width="53" height="18" fill="#f5fff5"/>
<rect x="970" y="783" width="52" height="18" fill="#f0fff0"/>
<rect x="1048" y="783" width="26" height="18" fill="#82ff82"/>
<rect x="1074" y="783" width="26" height="18" fill="#f0fff0"/>
<rect x="1100" y="783" width="26" height="18" fill="#d7ffd7"/>
<rect x="1126" y="783" width="27" height="18" fill="#d7ff00"/>
<rect x="1153" y="783" width="26" height="18" fill="#ff6900"/>
<rect x="1179" y="783" width="26" height="18" fill="#e8ff00"/>
<rect x="1205" y="783" width="26" height="18" fill="#ff5f00"/>
<rect x="446" y="801" width="26" height="18" fill="#ff6e00"/>
<rect x="472" y="801" width="27" height="18" fill="#b9ffb9"/>
<rect x="499" y="801" width="26" height="18" fill="#3cff3c"/>
<rect x="525" y="801" width="26" height="18" fill="#aaffaa"/>
<rect x="577" y="801" width="26" height="18" fill="#82ff82"/>
<rect x="603" y="801" width="26" height="18" fill="#f0fff0"/>
<rect x="656" y="801" width="26" height="18" fill="#f5fff5"/>
<rect x="891" y="801" width="52" height="18" fill="#f0fff0"/>
<rect x="970" y="801" width="26" height="18" fill="#d7ffd7"/>
<rect x="996" y="801" width="26" height="18" fill="#e4ffe4"/>
<rect x="1048" y="801" width="26" height="18" fill="#46ff46"/>
<rect x="1074" y="801" width="26" height="18" fill="#c8ffc8"/>
<rect x="1100" y="801" width="26" height="18" fill="#73ff73"/>
<rect x="1126" y="801" width="27" height="18" fill="#ffff00"/>
<rect x="1153" y="801" width="26" height="18" fill="#ffc300"/>
<rect x="1179" y="801" width="26" height="18" fill="#ffe600"/>
<rect x="1205" y="801" width="26" height="18" fill="#ffcd00"/>
<rect x="446" y="819" width="26" height="17" fill="#ff6e00"/>
<rect x="472" y="819" width="27" height="17" fill="#aaffaa"/>
<rect x="499" y="819" width="26" height="17" fill="#2dff2d"/>
<rect x="525" y="819" width="26" height="17" fill="#aaffaa"/>
<rect x="577" y="819" width="26" height="17" fill="#5aff5a"/>
<rect x="603" y="819" width="26" height="17" fill="#dcffdc"/>
<rect x="656" y="819" width="26" height="17" fill="#ebffeb"/>
<rect x="891" y="819" width="26" height="17" fill="#f0fff0"/>
<rect x="917" y="819" width="26" height="17" fill="#e4ffe4"/>
<rect x="970" y="819" width="26" height="17" fill="#d7ffd7"/>
<rect x="996" y="819" width="26" height="17" fill="#e4ffe4"/>
<rect x="1022" y="819" width="26" height="17" fill="#f0fff0"/>
<rect x="1048" y="819" width="26" height="17" fill="#37ff37"/>
<rect x="1074" y="819" width="26" height="17" fill="#aaffaa"/>
<rect x="1100" y="819" width="26" height="17" fill="#82ff82"/>
<rect x="1126" y="819" width="27" height="17" fill="#ffff00"/>
<rect x="1153" y="819" width="26" height="17" fill="#ffd200"/>
<rect x="1179" y="819" width="26" height="17" fill="#ffe600"/>
<rect x="1205" y="819" width="26" height="17" fill="#ffcd00"/>
<rect x="446" y="836" width="26" height="18" fill="#ff7300"/>
<rect x="472" y="836" width="27" height="18" fill="#cdffcd"/>
<rect x="499" y="836" width="26" height="18" fill="#3cff3c"/>
<rect x="525" y="836" width="26" height="18" fill="#b9ffb9"/>
<rect x="577" y="836" width="26" height="18" fill="#73ff73"/>
<rect x="603" y="836" width="53" height="18" fill="#f5fff5"/>
<rect x="917" y="836" width="26" height="18" fill="#f0fff0"/>
<rect x="970" y="836" width="26" height="18" fill="#d7ffd7"/>
<rect x="996" y="836" width="26" height="18" fill="#f0fff0"/>
<rect x="1048" y="836" width="26" height="18" fill="#46ff46"/>
<rect x="1074" y="836" width="26" height="18" fill="#c8ffc8"/>
<rect x="1100" y="836" width="26" height="18" fill="#8cff8c"/>
<rect x="1126" y="836" width="53" height="18" fill="#ffd200"/>
<rect x="1179" y="836" width="26" height="18" fill="#ffff00"/>
<rect x="1205" y="836" width="26" height="18" fill="#ffcd00"/>
<rect x="446" y="854" width="26" height="18" fill="#ff5f00"/>
<rect x="472" y="854" width="27" height="18" fill="#b9ffb9"/>
<rect x="499" y="854" width="26" height="18" fill="#4bff4b"/>
<rect x="525" y="854" width="26" height="18" fill="#b9ffb9"/>
<rect x="577" y="854" width="26" height="18" fill="#64ff64"/>
<rect x="603" y="854" width="26" height="18" fill="#e6ffe6"/>
<rect x="656" y="854" width="26" height="18" fill="#f5fff5"/>
<rect x="891" y="854" width="52" height="18" fill="#f0fff0"/>
<rect x="970" y="854" width="26" height="18" fill="#d7ffd7"/>
<rect x="996" y="854" width="26" height="18" fill="#f0fff0"/>
<rect x="1048" y="854" width="26" height="18" fill="#46ff46"/>
<rect x="1074" y="854" width="26" height="18" fill="#b9ffb9"/>
<rect x="1100" y="854" width="26" height="18" fill="#82ff82"/>
<rect x="1126" y="854" width="27" height="18" fill="#ffe600"/>
<rect x="1153" y="854" width="26" height="18" fill="#ffaf00"/>
<rect x="1179" y="854" width="26" height="18" fill="#ffff00"/>
<rect x="1205" y="854" width="26" height="18" fill="#ffe600"/>
<rect x="446" y="872" width="26" height="18" fill="#ffff00"/>
<rect x="472" y="872" width="27" height="18" fill="#ffcd00"/>
<rect x="499" y="872" width="26" height="18" fill="#beff00"/>
<rect x="525" y="872" width="26" height="18" fill="#82ff82"/>
<rect x="551" y="872" width="26" height="18" fill="#0aff0a"/>
<rect x="577" y="872" width="52" height="18" fill="#f0fff0"/>
<rect x="629" y="872" width="27" height="18" fill="#91ff91"/>
<rect x="656" y="872" width="26" height="18" fill="#c8ffc8"/>
<rect x="682" y="872" width="26" height="18" fill="#e4ffe4"/>
<rect x="839" y="872" width="26" height="18" fill="#a0ffa0"/>
<rect x="891" y="872" width="26" height="18" fill="#f0fff0"/>
<rect x="1022" y="872" width="26" height="18" fill="#91ff91"/>
<rect x="1048" y="872" width="26" height="18" fill="#f0fff0"/>
<rect x="1074" y="872" width="26" height="18" fill="#e4ffe4"/>
<rect x="1100" y="872" width="26" height="18" fill="#f0fff0"/>
<rect x="1126" y="872" width="27" height="18" fill="#ffdc00"/>
<rect x="1153" y="872" width="26" height="18" fill="#7dff00"/>
<rect x="1179" y="872" width="26" height="18" fill="#ffcd00"/>
<rect x="1205" y="872" width="26" height="18" fill="#ffff00"/>
<rect x="446" y="890" width="26" height="18" fill="#ffeb00"/>
<rect x="472" y="890" width="27" height="18" fill="#ffdc00"/>
<rect x="499" y="890" width="26" height="18" fill="#beff00"/>
<rect x="525" y="890" width="26" height="18" fill="#82ff82"/>
<rect x="551" y="890" width="26" height="18" fill="#0aff0a"/>
<rect x="603" y="890" width="26" height="18" fill="#f0fff0"/>
<rect x="629" y="890" width="27" height="18" fill="#82ff82"/>
<rect x="656" y="890" width="26" height="18" fill="#d7ffd7"/>
<rect x="682" y="890" width="26" height="18" fill="#e4ffe4"/>
<rect x="839" y="890" width="26" height="18" fill="#a0ffa0"/>
<rect x="891" y="890" width="52" height="18" fill="#f0fff0"/>
<rect x="1022" y="890" width="26" height="18" fill="#a0ffa0"/>
<rect x="1048" y="890" width="26" height="18" fill="#f0fff0"/>
<rect x="1074" y="890" width="26" height="18" fill="#e4ffe4"/>
<rect x="1100" y="890" width="26" height="18" fill="#e1ffe1"/>
<rect x="1126" y="890" width="27" height="18" fill="#ffdc00"/>
<rect x="1153" y="890" width="26" height="18" fill="#7dff00"/>
<rect x="1179" y="890" width="26" height="18" fill="#ffcd00"/>
<rect x="1205" y="890" width="26" height="18" fill="#ffeb00"/>
<rect x="446" y="908" width="26" height="18" fill="#ffff00"/>
<rect x="472" y="908" width="27" height="18" fill="#ffdc00"/>
<rect x="499" y="908" width="26" height="18" fill="#aaff00"/>
<rect x="525" y="908" width="26" height="18" fill="#96ff96"/>
<rect x="551" y="908" width="26" height="18" fill="#28ff00"/>
<rect x="577" y="908" width="26" height="18" fill="#f0fff0"/>
<rect x="629" y="908" width="27" height="18" fill="#91ff91"/>
<rect x="656" y="908" width="26" height="18" fill="#d7ffd7"/>
<rect x="682" y="908" width="26" height="18" fill="#f0fff0"/>
<rect x="839" y="908" width="26" height="18" fill="#a0ffa0"/>
<rect x="917" y="908" width="26" height="18" fill="#f0fff0"/>
<rect x="1022" y="908" width="26" height="18" fill="#a0ffa0"/>
<rect x="1048" y="908" width="52" height="18" fill="#e4ffe4"/>
<rect x="1100" y="908" width="26" height="18" fill="#e1ffe1"/>
<rect x="1126" y="908" width="27" height="18" fill="#ffdc00"/>
<rect x="1153" y="908" width="26" height="18" fill="#87ff00"/>
<rect x="1179" y="908" width="26" height="18" fill="#ffcd00"/>
<rect x="1205" y="908" width="26" height="18" fill="#ffff00"/>
<rect x="446" y="926" width="26" height="17" fill="#ffff00"/>
<rect x="472" y="926" width="27" height="17" fill="#ffcd00"/>
<rect x="499" y="926" width="26" height="17" fill="#beff00"/>
<rect x="525" y="926" width="26" height="17" fill="#73ff73"/>
<rect x="551" y="926" width="26" height="17" fill="#00ff00"/>
<rect x="577" y="926" width="52" height="17" fill="#f0fff0"/>
<rect x="629" y="926" width="27" height="17" fill="#91ff91"/>
<rect x="656" y="926" width="26" height="17" fill="#d7ffd7"/>
<rect x="682" y="926" width="26" height="17" fill="#e4ffe4"/>
<rect x="839" y="926" width="26" height="17" fill="#a0ffa0"/>
<rect x="917" y="926" width="26" height="17" fill="#f0fff0"/>
<rect x="1022" y="926" width="26" height="17" fill="#a0ffa0"/>
<rect x="1048" y="926" width="26" height="17" fill="#e4ffe4"/>
<rect x="1074" y="926" width="26" height="17" fill="#d4ffd4"/>
<rect x="1100" y="926" width="26" height="17" fill="#f0fff0"/>
<rect x="1126" y="926" width="27" height="17" fill="#ffeb00"/>
<rect x="1153" y="926" width="26" height="17" fill="#64ff00"/>
<rect x="1179" y="926" width="52" height="17" fill="#ffdc00"/>
<rect x="446" y="943" width="26" height="18" fill="#82ff82"/>
<rect x="472" y="943" width="27" height="18" fill="#e4ffe4"/>
<rect x="499" y="943" width="26" height="18" fill="#f0fff0"/>
<rect x="525" y="943" width="26" height="18" fill="#f5ff00"/>
<rect x="603" y="943" width="26" height="18" fill="#e4ffe4"/>
<rect x="786" y="943" width="27" height="18" fill="#f0fff0"/>
<rect x="839" y="943" width="26" height="18" fill="#d7ffd7"/>
<rect x="865" y="943" width="26" height="18" fill="#c8ffc8"/>
<rect x="891" y="943" width="52" height="18" fill="#b9ffb9"/>
<rect x="943" y="943" width="27" height="18" fill="#e4ffe4"/>
<rect x="970" y="943" width="26" height="18" fill="#5aff5a"/>
<rect x="996" y="943" width="26" height="18" fill="#00ff00"/>
<rect x="1022" y="943" width="26" height="18" fill="#46ff46"/>
<rect x="1048" y="943" width="26" height="18" fill="#e4ffe4"/>
<rect x="1074" y="943" width="26" height="18" fill="#b9ffb9"/>
<rect x="1100" y="943" width="26" height="18" fill="#a0ffa0"/>
<rect x="1126" y="943" width="27" height="18" fill="#d2ff00"/>
<rect x="1153" y="943" width="26" height="18" fill="#32ff00"/>
<rect x="1179" y="943" width="26" height="18" fill="#ff0000"/>
<rect x="1205" y="943" width="26" height="18" fill="#dcff00"/>
<rect x="446" y="961" width="26" height="18" fill="#82ff82"/>
<rect x="472" y="961" width="27" height="18" fill="#e4ffe4"/>
<rect x="499" y="961" width="26" height="18" fill="#f0fff0"/>
<rect x="525" y="961" width="26" height="18" fill="#e8ff00"/>
<rect x="603" y="961" width="26" height="18" fill="#e4ffe4"/>
<rect x="839" y="961" width="26" height="18" fill="#d7ffd7"/>
<rect x="865" y="961" width="52" height="18" fill="#c8ffc8"/>
<rect x="917" y="961" width="26" height="18" fill="#a0ffa0"/>
<rect x="943" y="961" width="27" height="18" fill="#e4ffe4"/>
<rect x="970" y="961" width="26" height="18" fill="#78ff78"/>
<rect x="996" y="961" width="26" height="18" fill="#00ff00"/>
<rect x="1022" y="961" width="26" height="18" fill="#3cff3c"/>
<rect x="1048" y="961" width="26" height="18" fill="#e4ffe4"/>
<rect x="1074" y="961" width="26" height="18" fill="#aaffaa"/>
<rect x="1100" y="961" width="26" height="18" fill="#a0ffa0"/>
<rect x="1126" y="961" width="27" height="18" fill="#e1ff00"/>
<rect x="1153" y="961" width="26" height="18" fill="#3cff00"/>
<rect x="1179" y="961" width="26" height="18" fill="#ff0000"/>
<rect x="1205" y="961" width="26" height="18" fill="#deff00"/>
<rect x="446" y="979" width="26" height="18" fill="#73ff73"/>
<rect x="472" y="979" width="27" height="18" fill="#e4ffe4"/>
<rect x="499" y="979" width="26" height="18" fill="#f0fff0"/>
<rect x="525" y="979" width="26" height="18" fill="#ffff00"/>
<rect x="603" y="979" width="26" height="18" fill="#f0fff0"/>
<rect x="786" y="979" width="27" height="18" fill="#f0fff0"/>
<rect x="839" y="979" width="26" height="18" fill="#d7ffd7"/>
<rect x="865" y="979" width="26" height="18" fill="#c3ffc3"/>
<rect x="891" y="979" width="26" height="18" fill="#b4ffb4"/>
<rect x="917" y="979" width="26" height="18" fill="#aaffaa"/>
<rect x="943" y="979" width="27" height="18" fill="#e4ffe4"/>
<rect x="970" y="979" width="26" height="18" fill="#73ff73"/>
<rect x="996" y="979" width="26" height="18" fill="#00ff00"/>
<rect x="1022" y="979" width="26" height="18" fill="#46ff46"/>
<rect x="1048" y="979" width="26" height="18" fill="#e4ffe4"/>
<rect x="1074" y="979" width="26" height="18" fill="#b9ffb9"/>
<rect x="1100" y="979" width="26" height="18" fill="#a0ffa0"/>
<rect x="1126" y="979" width="27" height="18" fill="#beff00"/>
<rect x="1153" y="979" width="26" height="18" fill="#32ff00"/>
<rect x="1179" y="979" width="26" height="18" fill="#ff0000"/>
<rect x="1205" y="979" width="26" height="18" fill="#ebff00"/>
<rect x="446" y="997" width="26" height="17" fill="#73ff73"/>
<rect x="472" y="997" width="27" height="17" fill="#e4ffe4"/>
<rect x="499" y="997" width="26" height="17" fill="#f0fff0"/>
<rect x="525" y="997" width="26" height="17" fill="#ffe600"/>
<rect x="603" y="997" width="26" height="17" fill="#e4ffe4"/>
<rect x="708" y="997" width="26" height="17" fill="#f0fff0"/>
<rect x="786" y="997" width="27" height="17" fill="#f0fff0"/>
<rect x="839" y="997" width="26" height="17" fill="#d4ffd4"/>
<rect x="865" y="997" width="26" height="17" fill="#beffbe"/>
<rect x="891" y="997" width="52" height="17" fill="#aaffaa"/>
<rect x="943" y="997" width="27" height="17" fill="#e4ffe4"/>
<rect x="970" y="997" width="26" height="17" fill="#5aff5a"/>
<rect x="996" y="997" width="26" height="17" fill="#0aff0a"/>
<rect x="1022" y="997" width="26" height="17" fill="#41ff41"/>
<rect x="1048" y="997" width="26" height="17" fill="#e4ffe4"/>
<rect x="1074" y="997" width="26" height="17" fill="#aaffaa"/>
<rect x="1100" y="997" width="26" height="17" fill="#b9ffb9"/>
<rect x="1126" y="997" width="27" height="17" fill="#d7ff00"/>
<rect x="1153" y="997" width="26" height="17" fill="#05ff05"/>
<rect x="1179" y="997" width="26" height="17" fill="#ff0000"/>
<rect x="1205" y="997" width="26" height="17" fill="#e8ff00"/>
<rect x="446" y="1014" width="26" height="18" fill="#aaff00"/>
<rect x="499" y="1014" width="26" height="18" fill="#5aff5a"/>
<rect x="734" y="1014" width="26" height="18" fill="#f0fff0"/>
<rect x="996" y="1014" width="52" height="18" fill="#d7ffd7"/>
<rect x="1048" y="1014" width="26" height="18" fill="#78ff78"/>
<rect x="1074" y="1014" width="52" height="18" fill="#e4ffe4"/>
<rect x="1126" y="1014" width="27" height="18" fill="#50ff00"/>
<rect x="1153" y="1014" width="26" height="18" fill="#ffff00"/>
<rect x="1179" y="1014" width="26" height="18" fill="#ff1e00"/>
<rect x="1205" y="1014" width="26" height="18" fill="#ff7d00"/>
<rect x="446" y="1032" width="26" height="18" fill="#a5ff00"/>
<rect x="499" y="1032" width="26" height="18" fill="#5aff5a"/>
<rect x="656" y="1032" width="26" height="18" fill="#e4ffe4"/>
<rect x="996" y="1032" width="26" height="18" fill="#d7ffd7"/>
<rect x="1022" y="1032" width="26" height="18" fill="#c8ffc8"/>
<rect x="1048" y="1032" width="26" height="18" fill="#f0fff0"/>
<rect x="1074" y="1032" width="26" height="18" fill="#d7ffd7"/>
<rect x="1100" y="1032" width="26" height="18" fill="#e4ffe4"/>
<rect x="1126" y="1032" width="27" height="18" fill="#50ff00"/>
<rect x="1153" y="1032" width="26" height="18" fill="#ffff00"/>
<rect x="1179" y="1032" width="26" height="18" fill="#ff1e00"/>
<rect x="1205" y="1032" width="26" height="18" fill="#ff7d00"/>
<rect x="446" y="1050" width="26" height="18" fill="#afff00"/>
<rect x="499" y="1050" width="26" height="18" fill="#5aff5a"/>
<rect x="656" y="1050" width="26" height="18" fill="#e4ffe4"/>
<rect x="734" y="1050" width="26" height="18" fill="#f0fff0"/>
<rect x="996" y="1050" width="26" height="18" fill="#d7ffd7"/>
<rect x="1022" y="1050" width="26" height="18" fill="#c8ffc8"/>
<rect x="1048" y="1050" width="26" height="18" fill="#82ff82"/>
<rect x="1074" y="1050" width="26" height="18" fill="#d7ffd7"/>
<rect x="1100" y="1050" width="26" height="18" fill="#e4ffe4"/>
<rect x="1126" y="1050" width="27" height="18" fill="#4bff00"/>
<rect x="1153" y="1050" width="26" height="18" fill="#ffff00"/>
<rect x="1179" y="1050" width="26" height="18" fill="#ff2800"/>
<rect x="1205" y="1050" width="26" height="18" fill="#ff7d00"/>
<rect x="446" y="1068" width="26" height="18" fill="#a5ff00"/>
<rect x="499" y="1068" width="26" height="18" fill="#69ff69"/>
<rect x="656" y="1068" width="26" height="18" fill="#e4ffe4"/>
<rect x="996" y="1068" width="26" height="18" fill="#d7ffd7"/>
<rect x="1022" y="1068" width="26" height="18" fill="#d4ffd4"/>
<rect x="1048" y="1068" width="26" height="18" fill="#82ff82"/>
<rect x="1074" y="1068" width="52" height="18" fill="#e4ffe4"/>
<rect x="1126" y="1068" width="27" height="18" fill="#50ff00"/>
<rect x="1153" y="1068" width="26" height="18" fill="#ffff00"/>
<rect x="1179" y="1068" width="26" height="18" fill="#ff1e00"/>
<rect x="1205" y="1068" width="26" height="18" fill="#ff7d00"/>
</g>
<g font-size="14.7">
<text x="1242.6" y="245.8">56, G_Medium_15°C</text>
<text x="1242.6" y="263.6">53, G_Medium_15°C</text>
<text x="1242.6" y="281.4">55, G_Medium_15°C</text>
<text x="1242.6" y="299.2">54, G_Medium_15°C</text>
<text x="1242.6" y="317.0">59, G_Medium_10°C</text>
<text x="1242.6" y="334.8">57, G_Medium_10°C</text>
<text x="1242.6" y="352.6">58, G_Medium_10°C</text>
<text x="1242.6" y="370.4">18, B8_Medium_10°C</text>
<text x="1242.6" y="388.2">17, B8_Medium_10°C</text>
<text x="1242.6" y="406.0">19, B8_Medium_10°C</text>
<text x="1242.6" y="423.8">20, B8_Medium_10°C</text>
<text x="1242.6" y="441.6">52, G_Sample_10°C</text>
<text x="1242.6" y="459.4">49, G_Sample_10°C</text>
<text x="1242.6" y="477.2">51, G_Sample_10°C</text>
<text x="1242.6" y="495.0">50, G_Sample_10°C</text>
<text x="1242.6" y="512.8">60, G_Medium_10°C</text>
<text x="1242.6" y="530.6">15, B8_Medium_15°C</text>
<text x="1242.6" y="548.4">13, B8_Medium_15°C</text>
<text x="1242.6" y="566.2">16, B8_Medium_15°C</text>
<text x="1242.6" y="584.0">14, B8_Medium_15°C</text>
<text x="1242.6" y="601.8">8, B8_Sample_15°C</text>
<text x="1242.6" y="619.6">5, B8_Sample_15°C</text>
<text x="1242.6" y="637.4">7, B8_Sample_15°C</text>
<text x="1242.6" y="655.2">6, B8_Sample_15°C</text>
<text x="1242.6" y="673.0">28, CE6_Sample_15°C</text>
<text x="1242.6" y="690.8">25, CE6_Sample_15°C</text>
<text x="1242.6" y="708.6">27, CE6_Sample_15°C</text>
<text x="1242.6" y="726.4">26, CE6_Sample_15°C</text>
<text x="1242.6" y="744.2">40, CE6_Medium_10°C</text>
<text x="1242.6" y="762.0">37, CE6_Medium_10°C</text>
<text x="1242.6" y="779.8">39, CE6_Medium_10°C</text>
<text x="1242.6" y="797.6">38, CE6_Medium_10°C</text>
<text x="1242.6" y="815.4">31, CE6_Sample_10°C</text>
<text x="1242.6" y="833.2">30, CE6_Sample_10°C</text>
<text x="1242.6" y="851.0">32, CE6_Sample_10°C</text>
<text x="1242.6" y="868.8">29, CE6_Sample_10°C</text>
<text x="1242.6" y="886.6">35, CE6_Medium_15°C</text>
<text x="1242.6" y="904.4">33, CE6_Medium_15°C</text>
<text x="1242.6" y="922.2">36, CE6_Medium_15°C</text>
<text x="1242.6" y="940.0">34, CE6_Medium_15°C</text>
<text x="1242.6" y="957.8">46, G_Sample_15°C</text>
<text x="1242.6" y="975.6">45, G_Sample_15°C</text>
<text x="1242.6" y="993.4">47, G_Sample_15°C</text>
<text x="1242.6" y="1011.2">48, G_Sample_15°C</text>
<text x="1242.6" y="1029.0">12, B8_Sample_10°C</text>
<text x="1242.6" y="1046.8">10, B8_Sample_10°C</text>
<text x="1242.6" y="1064.6">11, B8_Sample_10°C</text>
<text x="1242.6" y="1082.4">9, B8_Sample_10°C</text>
</g>
<g font-size="16.4" font-style="italic" text-anchor="end">
<text transform="translate(466.1,1097.3) rotate(-90)">g__Marinobacter</text>
<text transform="translate(492.2,1097.3) rotate(-90)">g__Reinekea</text>
<text transform="translate(518.4,1097.3) rotate(-90)">f__Oceanospirillaceae; Unknown</text>
<text transform="translate(544.6,1097.3) rotate(-90)">g__Saccharospirillum</text>
<text transform="translate(570.7,1097.3) rotate(-90)">o__Flavobacteriales; Unknown</text>
<text transform="translate(596.9,1097.3) rotate(-90)">g__Salinibacterium</text>
<text transform="translate(623.1,1097.3) rotate(-90)">f__Microbacteriaceae; Unknown</text>
<text transform="translate(649.2,1097.3) rotate(-90)">c__Gammaproteobacteria; Unknown</text>
<text transform="translate(675.4,1097.3) rotate(-90)">g__Pseudomonas</text>
<text transform="translate(701.6,1097.3) rotate(-90)">f__Erythrobacteraceae; Unknown</text>
<text transform="translate(727.7,1097.3) rotate(-90)">g__Methylophaga</text>
<text transform="translate(753.9,1097.3) rotate(-90)">p__Unknown; Unknown</text>
<text transform="translate(780.1,1097.3) rotate(-90)">g__Marinoscillum</text>
<text transform="translate(806.2,1097.3) rotate(-90)">g__Microbacterium</text>
<text transform="translate(832.4,1097.3) rotate(-90)">f__Flavobacteriaceae; Unknown</text>
<text transform="translate(858.6,1097.3) rotate(-90)">f__Sneathiellaceae; Unknown</text>
<text transform="translate(884.7,1097.3) rotate(-90)">g__Gracilimonas</text>
<text transform="translate(910.9,1097.3) rotate(-90)">g__Zhongshania</text>
<text transform="translate(937.1,1097.3) rotate(-90)">o__Cytophagales; Unknown</text>
<text transform="translate(963.2,1097.3) rotate(-90)">g__Psychrosphaera</text>
<text transform="translate(989.4,1097.3) rotate(-90)">f__Hyphomicrobiaceae; Unknown</text>
<text transform="translate(1015.5,1097.3) rotate(-90)">g__Oceaniserpentilla</text>
<text transform="translate(1041.7,1097.3) rotate(-90)">p__Bacteroidetes; Unknown</text>
<text transform="translate(1067.9,1097.3) rotate(-90)">g__Muricauda</text>
<text transform="translate(1094.0,1097.3) rotate(-90)">g__Limnobacter</text>
<text transform="translate(1120.2,1097.3) rotate(-90)">g__Reichenbachiella</text>
<text transform="translate(1146.4,1097.3) rotate(-90)">g__Balneola</text>
<text transform="translate(1172.5,1097.3) rotate(-90)">g__Joostella</text>
<text transform="translate(1198.7,1097.3) rotate(-90)">f__Flammeovirgaceae; Unknown</text>
<text transform="translate(1224.9,1097.3) rotate(-90)">g__Marinomonas</text>
</g>
</svg></body></html>
